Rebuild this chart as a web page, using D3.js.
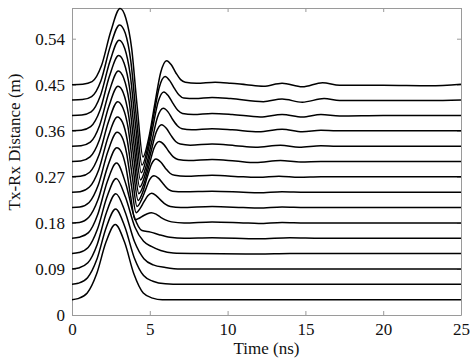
<!DOCTYPE html>
<html>
<head>
<meta charset="utf-8">
<script src="https://cdn.jsdelivr.net/npm/d3@7"></script>
<style>
  body { margin: 0; background: #fff; }
  svg { display: block; }
</style>
</head>
<body>
<svg id="chart"></svg>
<script>
// baselines of the traces (Tx-Rx distance, m)
const distances = [0.03, 0.06, 0.09, 0.12, 0.15, 0.18, 0.21, 0.24, 0.27, 0.30, 0.33, 0.36, 0.39, 0.42, 0.45];

// each trace: [time (ns), offset from its baseline]
const w03 = [[0,0],[0.38,0.002],[0.98,0.013],[1.58,0.050],[2.18,0.112],[2.78,0.147],[3.38,0.112],[3.98,0.050],[4.58,0.013],[5.18,0.003],[5.8,0],[25,0]];
const w06 = [[0,0],[0.4,0.002],[1.0,0.013],[1.6,0.049],[2.2,0.111],[2.8,0.147],[3.4,0.112],[4.0,0.052],[4.6,0.017],[5.2,0.006],[6.0,0.001],[7,0],[25,0]];
const w09 = [[0,0],[0.42,0.002],[1.02,0.012],[1.62,0.048],[2.22,0.111],[2.82,0.147],[3.42,0.111],[4.02,0.053],[4.62,0.020],[5.22,0.008],[6.0,0.003],[7.0,0],[25,0]];
const w12 = [[0,0],[0.44,0.002],[1.04,0.012],[1.64,0.048],[2.24,0.110],[2.84,0.147],[3.44,0.110],[4.04,0.052],[4.6,0.024],[5.1,0.014],[5.7,0.006],[6.5,0.001],[8,0],[12,-0.001],[14,0],[25,0]];
const w15 = [[0,0],[0.46,0.002],[1.06,0.011],[1.66,0.047],[2.26,0.110],[2.86,0.147],[3.46,0.106],[4.0,0.042],[4.5,0.015],[5.05,0.012],[5.6,0.007],[6.3,0.002],[7.2,0],[9,0.001],[12,-0.001],[14,0.001],[16,0],[25,0]];
const w18 = [[0,0],[0.48,0.001],[1.08,0.011],[1.68,0.046],[2.28,0.109],[2.88,0.147],[3.17,0.139],[3.46,0.110],[3.76,0.054],[4.05,0.006],[4.31,0.009],[4.58,0.014],[4.84,0.018],[5.10,0.020],[5.4,0.017],[5.7,0.011],[6.0,0.006],[6.4,0.002],[7.2,0],[9,0.002],[11,0],[12,-0.001],[13.5,0.001],[15,0],[25,0]];
const w21 = [[0,0],[0.5,0.001],[1.1,0.010],[1.7,0.045],[2.3,0.109],[2.9,0.147],[3.21,0.138],[3.51,0.106],[3.82,0.043],[4.12,-0.010],[4.37,-0.002],[4.62,0.011],[4.87,0.023],[5.12,0.028],[5.42,0.023],[5.72,0.014],[6.02,0.006],[6.32,0.002],[7.0,0],[9,0.002],[11,0],[12,-0.001],[13.5,0.001],[15,0],[25,0]];
const w24 = [[0,0],[0.52,0.001],[1.12,0.010],[1.72,0.044],[2.32,0.108],[2.92,0.147],[3.24,0.137],[3.55,0.102],[3.87,0.032],[4.18,-0.028],[4.45,-0.016],[4.73,0.005],[5.0,0.025],[5.27,0.032],[5.57,0.027],[5.87,0.016],[6.17,0.006],[6.47,0.002],[7.2,0.001],[9,0.002],[11,0],[12,-0.001],[13.5,0.001],[15,0],[25,0]];
const w27 = [[0,0],[0.54,0.001],[1.14,0.009],[1.74,0.043],[2.34,0.107],[2.94,0.147],[3.27,0.135],[3.60,0.097],[3.92,0.020],[4.25,-0.046],[4.54,-0.030],[4.83,-0.001],[5.11,0.025],[5.40,0.035],[5.70,0.029],[6.0,0.017],[6.3,0.007],[6.6,0.003],[7.3,0.001],[9,0.003],[11,0],[12,-0.001],[13.3,0.001],[14.6,-0.001],[16,0],[25,0]];
const w30 = [[0,0],[0.56,0.001],[1.16,0.009],[1.76,0.042],[2.36,0.107],[2.96,0.147],[3.30,0.134],[3.63,0.092],[3.97,0.008],[4.30,-0.063],[4.63,-0.043],[4.96,-0.007],[5.28,0.027],[5.61,0.039],[5.91,0.033],[6.21,0.020],[6.51,0.009],[6.81,0.004],[7.5,0.002],[9,0.004],[10.5,0.001],[11.8,-0.002],[13.4,0.002],[14.7,-0.001],[16,0],[25,0]];
const w33 = [[0,0],[0.58,0.001],[1.18,0.008],[1.78,0.041],[2.38,0.106],[2.98,0.147],[3.32,0.133],[3.67,0.088],[4.01,-0.003],[4.35,-0.080],[4.70,-0.056],[5.06,-0.013],[5.41,0.027],[5.76,0.042],[6.06,0.035],[6.36,0.021],[6.66,0.009],[6.96,0.004],[7.6,0.002],[9,0.004],[10.5,0.001],[11.8,-0.002],[13.4,0.002],[14.6,-0.002],[16,0.001],[17,0],[25,0]];
const w36 = [[0,0],[0.6,0.001],[1.2,0.008],[1.8,0.040],[2.4,0.106],[3.0,0.147],[3.35,0.132],[3.70,0.084],[4.05,-0.013],[4.40,-0.096],[4.77,-0.068],[5.14,-0.019],[5.50,0.027],[5.87,0.044],[6.17,0.037],[6.47,0.022],[6.77,0.010],[7.07,0.004],[7.7,0.002],[9,0.004],[10.3,0.002],[12,-0.002],[13.5,0.003],[14.8,-0.002],[16,0.001],[17,0],[25,0]];
const w39 = [[0,0],[0.63,0.001],[1.23,0.007],[1.83,0.039],[2.43,0.105],[3.03,0.147],[3.39,0.131],[3.74,0.080],[4.10,-0.024],[4.45,-0.112],[4.81,-0.080],[5.18,-0.025],[5.54,0.027],[5.90,0.046],[6.2,0.038],[6.5,0.023],[6.8,0.010],[7.1,0.004],[7.8,0.002],[9,0.004],[10.3,0.002],[12.1,-0.003],[13.5,0.002],[14.8,-0.003],[16,0.002],[17.2,-0.001],[20,0],[25,0]];
const w42 = [[0,0],[0.66,0.001],[1.26,0.007],[1.86,0.038],[2.46,0.105],[3.06,0.147],[3.42,0.131],[3.78,0.076],[4.14,-0.034],[4.50,-0.127],[4.87,-0.092],[5.24,-0.032],[5.61,0.025],[5.98,0.046],[6.28,0.038],[6.58,0.023],[6.88,0.010],[7.18,0.004],[7.9,0.003],[9,0.005],[10.2,0.003],[12.3,-0.003],[13.5,0.002],[14.8,-0.004],[16.2,0.003],[17.2,-0.001],[20,-0.001],[23,-0.001],[25,0]];
const w45 = [[0,0],[0.69,0.001],[1.29,0.006],[1.89,0.037],[2.49,0.104],[3.09,0.149],[3.46,0.130],[3.83,0.072],[4.19,-0.043],[4.56,-0.141],[4.94,-0.103],[5.32,-0.038],[5.70,0.024],[6.08,0.047],[6.38,0.039],[6.68,0.023],[6.98,0.010],[7.28,0.005],[8.0,0.003],[9.2,0.005],[10.2,0.003],[11.2,0],[12.3,-0.003],[13.5,0.003],[14.8,-0.004],[16.1,0.004],[17.2,-0.001],[20,-0.001],[23,-0.002],[25,0.001]];

const waves = [w03, w06, w09, w12, w15, w18, w21, w24, w27, w30, w33, w36, w39, w42, w45];

const xTicks = [0, 5, 10, 15, 20, 25];
const yTicks = [0, 0.09, 0.18, 0.27, 0.36, 0.45, 0.54];
const yTickLabels = ["0", "0.09", "0.18", "0.27", "0.36", "0.45", "0.54"];

function drawChart(svg_id, width, height) {
    const svg = d3.select(svg_id)
        .attr("width", width)
        .attr("height", height)
        .attr("viewBox", [0, 0, width, height]);

    const margin = { left: 72, top: 8, right: 13, bottom: 47 };
    const innerW = width - margin.left - margin.right;
    const innerH = height - margin.top - margin.bottom;

    // scales
    const x_scale = d3.scaleLinear().domain([0, 25]).range([0, innerW]);
    const y_scale = d3.scaleLinear().domain([0, 0.6]).range([innerH, 0]);

    const mainGroup = svg.append("g").attr("transform", `translate(${margin.left}, ${margin.top})`);

    const font = "'Liberation Serif', 'Times New Roman', serif";
    const boxColor = "#9a9a9a";

    // bottom axis with labels, ticks pointing inwards
    const gX = mainGroup.append("g")
        .attr("transform", `translate(0, ${innerH})`)
        .call(d3.axisBottom(x_scale).tickValues(xTicks).tickSizeInner(-4).tickSizeOuter(0).tickPadding(8));

    // left axis
    const gY = mainGroup.append("g")
        .call(d3.axisLeft(y_scale).tickValues(yTicks).tickFormat((d, i) => yTickLabels[i])
            .tickSizeInner(-4).tickSizeOuter(0).tickPadding(7));

    // top and right axes close the box
    const gTop = mainGroup.append("g")
        .call(d3.axisTop(x_scale).tickValues(xTicks).tickFormat("").tickSizeInner(-4).tickSizeOuter(0));
    const gRight = mainGroup.append("g")
        .attr("transform", `translate(${innerW}, 0)`)
        .call(d3.axisRight(y_scale).tickValues(yTicks).tickFormat("").tickSizeInner(-4).tickSizeOuter(0));

    [gX, gY, gTop, gRight].forEach(g => {
        g.selectAll("path, line").attr("stroke", boxColor).attr("stroke-width", 1);
        g.selectAll("text")
            .attr("fill", "#111")
            .style("font-family", font)
            .style("font-size", "17px");
    });

    // axis titles
    mainGroup.append("text")
        .attr("x", innerW / 2)
        .attr("y", innerH + 39)
        .attr("text-anchor", "middle")
        .attr("fill", "#111")
        .style("font-family", font)
        .style("font-size", "17px")
        .text("Time (ns)");

    mainGroup.append("text")
        .attr("transform", `translate(${-52}, ${134}) rotate(-90)`)
        .attr("text-anchor", "middle")
        .attr("fill", "#111")
        .style("font-family", font)
        .style("font-size", "17px")
        .text("Tx-Rx Distance (m)");

    // traces
    mainGroup.append("clipPath").attr("id", "plot-clip")
        .append("rect").attr("y", -2).attr("width", innerW).attr("height", innerH + 2);

    const line = d3.line()
        .x(d => x_scale(d[0]))
        .y(d => y_scale(d[1]))
        .curve(d3.curveMonotoneX);

    mainGroup.append("g")
        .attr("clip-path", "url(#plot-clip)")
        .selectAll("path")
        .data(waves.map((w, i) => w.map(p => [p[0], distances[i] + p[1]])))
        .join("path")
        .attr("d", line)
        .attr("fill", "none")
        .attr("stroke", "#000")
        .attr("stroke-width", 1.5);
}

drawChart("#chart", 474, 362);
</script>
</body>
</html>
